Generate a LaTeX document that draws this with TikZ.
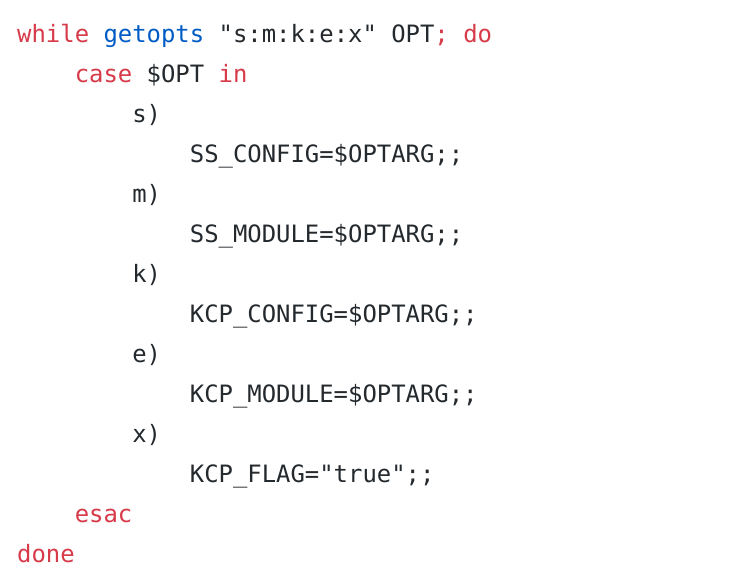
\documentclass[tikz,border=0pt]{standalone}
\usepackage{fontspec}
\setmonofont{DejaVu Sans Mono}
\definecolor{kw}{HTML}{D73A49}
\definecolor{fn}{HTML}{005CC5}
\definecolor{tx}{HTML}{24292E}
\begin{document}
\begin{tikzpicture}[x=1pt,y=1pt,
  codeline/.style={anchor=base west,inner sep=0pt,font=\ttfamily\fontsize{23.9}{23.9}\selectfont,text=tx}]
\useasboundingbox[fill=white] (0,0) rectangle (754,-578);
\newcommand{\K}[1]{\textcolor{kw}{#1}}
\newcommand{\F}[1]{\textcolor{fn}{#1}}
\node[codeline] (l1) at (17,-42) {\K{while} \F{getopts} "s:m:k:e:x" OPT\K{;} \K{do}};
\node[codeline] (l2) at (17,-82) {\phantom{xxxx}\K{case} \$OPT \K{in}};
\node[codeline] (l3) at (17,-122) {\phantom{xxxxxxxx}s)};
\node[codeline] (l4) at (17,-162) {\phantom{xxxxxxxxxxxx}SS\_CONFIG=\$OPTARG;;};
\node[codeline] (l5) at (17,-202) {\phantom{xxxxxxxx}m)};
\node[codeline] (l6) at (17,-242) {\phantom{xxxxxxxxxxxx}SS\_MODULE=\$OPTARG;;};
\node[codeline] (l7) at (17,-282) {\phantom{xxxxxxxx}k)};
\node[codeline] (l8) at (17,-322) {\phantom{xxxxxxxxxxxx}KCP\_CONFIG=\$OPTARG;;};
\node[codeline] (l9) at (17,-362) {\phantom{xxxxxxxx}e)};
\node[codeline] (l10) at (17,-402) {\phantom{xxxxxxxxxxxx}KCP\_MODULE=\$OPTARG;;};
\node[codeline] (l11) at (17,-442) {\phantom{xxxxxxxx}x)};
\node[codeline] (l12) at (17,-482) {\phantom{xxxxxxxxxxxx}KCP\_FLAG="true";;};
\node[codeline] (l13) at (17,-522) {\phantom{xxxx}\K{esac}};
\node[codeline] (l14) at (17,-562) {\K{done}};
\end{tikzpicture}
\end{document}
